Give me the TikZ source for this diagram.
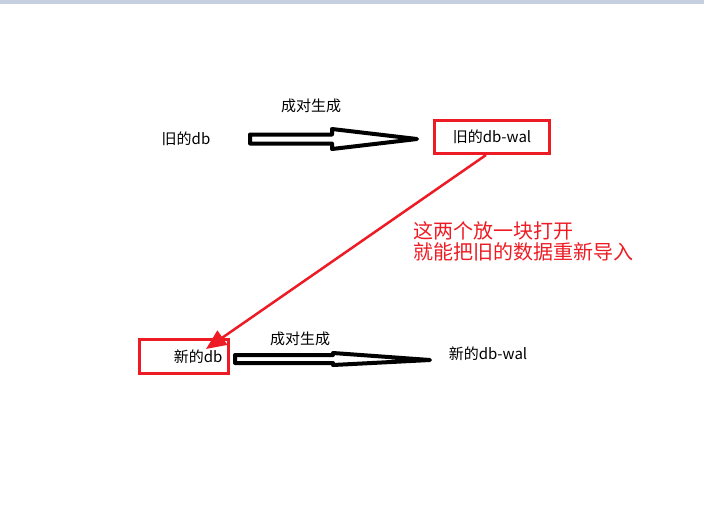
\documentclass[tikz,border=0pt]{standalone}
\usepackage{fontspec}
\setmainfont{Noto Sans CJK SC}
\usetikzlibrary{calc, arrows.meta}
\definecolor{paintred}{RGB}{237,28,36}
\definecolor{barblue}{RGB}{197,207,224}

% start, end, head length, shaft half width, head half width
\newcommand{\hollowarrow}[5]{%
  \draw[hollow] let \p1=(#1), \p2=(#2) in
    (\x1,\y1+#4) -- (\x2-#3,\y1+#4) -- (\x2-#3,\y1+#5) -- (\x2,\y2)
    -- (\x2-#3,\y1-#5) -- (\x2-#3,\y1-#4) -- (\x1,\y1-#4) -- cycle;}

\begin{document}
\begin{tikzpicture}[x=1pt, y=-1pt,
    dbtext/.style={font=\fontsize{15}{18}\selectfont, inner sep=1pt},
    redbox/.style={draw=paintred, line width=3pt, font=\fontsize{15}{18}\selectfont},
    hollow/.style={draw=black, line width=4pt, fill=white, line join=round},
    link/.style={draw=paintred, line width=2.5pt, -{Triangle[length=20pt,width=17pt]}}]

    \useasboundingbox (0,0) rectangle (704,528);
    \fill[barblue] (0,0) rectangle (704,4);

    \node (olddb) [dbtext] at (186,139) {旧的db};
    \node (pairtop) [dbtext] at (311,106) {成对生成};
    \node (oldwal) [redbox, minimum width=115pt, minimum height=33pt] at (492,137) {旧的db-wal};

    \node (newdb) [redbox, minimum width=89pt, minimum height=34pt, inner xsep=6pt, text width=77pt, align=right] at (184,356.5) {新的db};
    \node (pairbot) [dbtext] at (300,339) {成对生成};
    \node (newwal) [dbtext] at (488,354) {新的db-wal};

    \node (note) [anchor=north west, text=paintred, align=left, inner sep=0pt, font=\fontsize{20}{21}\selectfont] at (413,221) {这两个放一块打开\\就能把旧的数据重新导入};

    \coordinate (a1s) at (250,139);
    \coordinate (a1e) at (417,139);
    \coordinate (a2s) at (235,359);
    \coordinate (a2e) at (430,360);
    \hollowarrow{a1s}{a1e}{85}{4.5}{10}
    \hollowarrow{a2s}{a2e}{97}{4}{6}

    \coordinate (tip) at (206,349);
    \draw[link] ($(oldwal.south)+(-6,0)$) -- (tip);

\end{tikzpicture}
\end{document}
